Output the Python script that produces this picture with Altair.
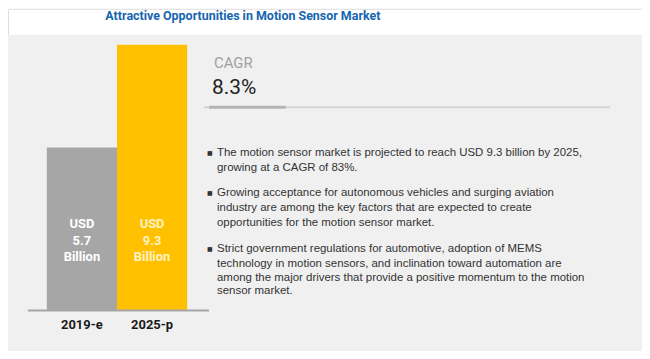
import altair as alt
import pandas as pd

# ---- data ----
years = ["2019-e", "2025-p"]
values = [5.7, 9.3]
bar_colors = ["#a6a6a6", "#ffc000"]
label_colors = ["#ffffff", "#fff3c4"]
title_text = "Attractive Opportunities in Motion Sensor Market"
cagr_label = "CAGR"
cagr_value = "8.3%"
bullet_lines = [
    ["The motion sensor market is projected to reach USD 9.3 billion by 2025,",
     "growing at a CAGR of 83%."],
    ["Growing  acceptance  for  autonomous  vehicles  and  surging  aviation",
     "industry  are  among  the  key  factors  that  are  expected  to  create",
     "opportunities for the motion sensor market."],
    ["Strict  government  regulations  for  automotive,  adoption  of  MEMS",
     "technology  in  motion  sensors,  and  inclination  toward  automation  are",
     "among the major drivers that provide a positive momentum to the motion",
     "sensor market."],
]

W, H = 637, 343
COND = "Roboto, sans-serif"

bars_df = pd.DataFrame({
    "year": years,
    "value": values,
    "color": bar_colors,
    "lcolor": label_colors,
    "l1": ["USD"] * 2,
    "l2": [f"{v:.1f}" for v in values],
    "l3": ["Billion"] * 2,
})

xs = alt.Scale(domain=years, range=[39, 180], paddingInner=0, paddingOuter=0)
ys = alt.Scale(domain=[0, 9.3], range=[303, 36])

panel = alt.Chart(pd.DataFrame({"a": [0]})).mark_rect(color="#f0f0f0").encode(
    x=alt.value(-4), x2=alt.value(W), y=alt.value(26), y2=alt.value(H + 10)
)

title = alt.Chart(pd.DataFrame({"t": [title_text]})).mark_text(
    font=COND, fontSize=12.5, fontWeight="bold", color="#1565b0", baseline="top", align="center"
).encode(text="t:N", x=alt.value(236), y=alt.value(1))

bars = alt.Chart(bars_df).mark_bar(size=70.5).encode(
    x=alt.X("year:N", scale=xs, axis=None),
    y=alt.Y("value:Q", scale=ys, axis=None),
    color=alt.Color("color:N", scale=None),
)

axis_line = alt.Chart(pd.DataFrame({"a": [0]})).mark_rule(color="#a6a6a6", strokeWidth=2).encode(
    x=alt.value(20), x2=alt.value(202), y=alt.value(303)
)

xlabels = alt.Chart(bars_df).mark_text(
    font=COND, fontSize=13, fontWeight="bold", color="#1a1a1a", baseline="middle"
).encode(x=alt.X("year:N", scale=xs, axis=None), y=alt.value(318), text="year:N")

bar_labels = []
for col, yy in [("l1", 216), ("l2", 233), ("l3", 249)]:
    bar_labels.append(
        alt.Chart(bars_df).mark_text(
            font=COND, fontSize=13, fontWeight="bold", baseline="middle"
        ).encode(
            x=alt.X("year:N", scale=xs, axis=None),
            y=alt.value(yy),
            text=f"{col}:N",
            color=alt.Color("lcolor:N", scale=None),
        )
    )

cagr1 = alt.Chart(pd.DataFrame({"t": [cagr_label]})).mark_text(
    font="Roboto", fontSize=15, color="#a0a0a0", align="left", baseline="middle"
).encode(text="t:N", x=alt.value(207), y=alt.value(54))

cagr2 = alt.Chart(pd.DataFrame({"t": [cagr_value]})).mark_text(
    font="Roboto", fontSize=21, color="#222222", align="left", baseline="middle"
).encode(text="t:N", x=alt.value(205), y=alt.value(80))

sep = alt.Chart(pd.DataFrame({"a": [0]})).mark_rule(color="#d4d4d4", strokeWidth=2).encode(
    x=alt.value(197), x2=alt.value(605), y=alt.value(99)
)
sep_dark = alt.Chart(pd.DataFrame({"a": [0]})).mark_rule(color="#b4b4b4", strokeWidth=3).encode(
    x=alt.value(202), x2=alt.value(279), y=alt.value(99)
)

line_y = [[145, 160], [185, 200, 215], [241, 256, 270, 284]]
text_layers = []
for lines, ys_ in zip(bullet_lines, line_y):
    text_layers.append(
        alt.Chart(pd.DataFrame({"t": ["■"]})).mark_text(
            font="DejaVu Sans", fontSize=6, color="#333333", align="left", baseline="middle"
        ).encode(text="t:N", x=alt.value(200), y=alt.value(ys_[0]))
    )
    for ln, yy in zip(lines, ys_):
        text_layers.append(
            alt.Chart(pd.DataFrame({"t": [ln]})).mark_text(
                font="Liberation Sans, Arial, sans-serif", fontSize=11.5, color="#333333",
                align="left", baseline="middle"
            ).encode(text="t:N", x=alt.value(210), y=alt.value(yy))
        )

chart = alt.layer(
    panel, title, bars, axis_line, xlabels, *bar_labels, cagr1, cagr2, sep, sep_dark, *text_layers
).properties(
    width=W, height=H, padding=0, autosize=alt.AutoSizeParams(type="none")
).configure_view(stroke=None).configure(background="white")

chart.save("out.html", embed_options={"renderer": "svg", "actions": False})
